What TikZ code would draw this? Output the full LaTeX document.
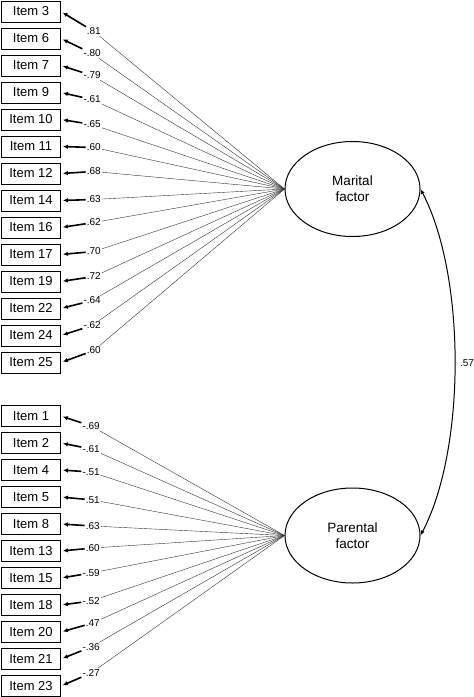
\documentclass[tikz,border=0pt]{standalone}
\usepackage{fontspec}
\setmainfont{Liberation Sans}
\usetikzlibrary{arrows.meta,shapes.geometric}
\begin{document}
\begin{tikzpicture}[%
                x=1pt, y=-1pt,
                itembox/.style={draw, line width=0.8pt, minimum width=59pt, minimum height=21pt, inner sep=0pt, font=\fontsize{13}{15}\selectfont},
                factor/.style={draw, ellipse, line width=1pt, minimum width=135pt, minimum height=95pt, inner sep=0pt, align=center, font=\fontsize{13.5}{16}\selectfont},
                loading/.style={inner sep=1pt, font=\fontsize{10}{12}\selectfont},
                thinline/.style={line width=0.4pt, black!80},
                myarrow/.style={line width=1.6pt, -{Latex[length=5pt,width=4.5pt]}, shorten >=2pt}
        ]
            \useasboundingbox (0,0) rectangle (474,697);
            \node [factor] (marital) at (352.5,189) {Marital\\factor};
            \node [factor] (parental) at (352.5,535.5) {Parental\\factor};
            % marital items
            \foreach \n/\lab/\off [count=\k from 0] in {3/.81/20, 6/-.80/15, 7/-.79/10, 9/-.61/7, 10/-.65/5, 11/.60/1, 12/.68/-2,
                    14/.63/-1, 16/.62/-5, 17/.70/-3, 19/.72/-5, 22/-.64/-8, 24/-.62/-10, 25/.60/-12} {
                \node [itembox] (item\n) at (31,{11.5+27*\k}) {Item \n};
                \node [loading, anchor=east] (load\n) at (102,{11.5+27*\k+(\off)}) {\lab};
                \draw [thinline] (marital.west) -- (load\n);
                \draw [myarrow] (load\n) -- (item\n.east);
            }
            % parental items
            \foreach \n/\lab/\off [count=\k from 0] in {1/-.69/10, 2/-.61/6, 4/-.51/2, 5/.51/3, 8/.63/2, 13/.60/-3,
                    15/-.59/-5, 18/-.52/-4, 20/.47/-9, 21/-.36/-12, 23/-.27/-13} {
                \node [itembox] (item\n) at (31,{416+27*\k}) {Item \n};
                \node [loading, anchor=east] (load\n) at (101,{416+27*\k+(\off)}) {\lab};
                \draw [thinline] (parental.west) -- (load\n);
                \draw [myarrow] (load\n) -- (item\n.east);
            }
            % correlation
            \draw [line width=1pt, {Latex[length=5pt,width=4pt]}-{Latex[length=5pt,width=4pt]}] (parental.east) .. controls (466,449) and (466,276) .. (marital.east);
            \node [loading] (corr) at (467,363) {.57};
        \end{tikzpicture}
\end{document}
